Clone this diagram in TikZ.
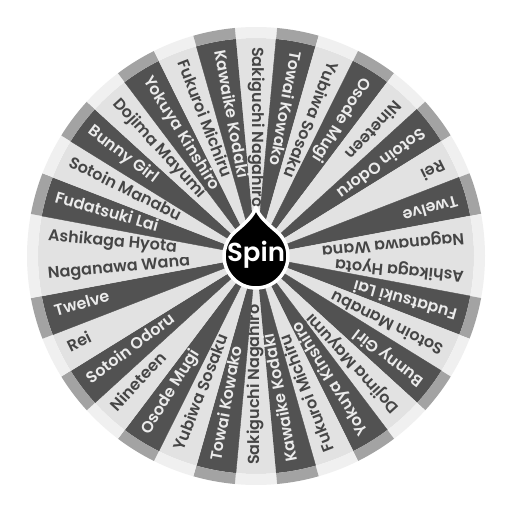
\documentclass[tikz,border=0pt]{standalone}
\usepackage{fontspec}
\setmainfont{Poppins}
\newfontfamily\labfont{Poppins SemiBold}
\definecolor{segD}{HTML}{525252}
\definecolor{segL}{HTML}{E2E2E2}
\definecolor{rimD}{HTML}{A3A3A3}
\definecolor{rimL}{HTML}{F0F0F0}
\definecolor{txtD}{HTML}{EBEBEB}
\definecolor{txtL}{HTML}{454545}
\tikzset{
  lab/.style={anchor=west, inner sep=0pt, text height=0.7em, text depth=0pt, font=\fontsize{16}{16}\labfont},
}
\begin{document}
\begin{tikzpicture}[x=1pt,y=1pt]
\useasboundingbox (0,0) rectangle (512,512);
\fill[white] (0,0) rectangle (512,512);
\coordinate (c) at (256,256);
\pgfmathsetmacro{\w}{360/34}
\foreach \nm/\sc/\rc/\tc [count=\i from 0] in {
  Sakiguchi Nagahiro/segL/rimL/txtL,
  Towai Kowako/segD/rimD/txtD,
  Yubiwa Sosaku/segL/rimL/txtL,
  Osode Mugi/segD/rimD/txtD,
  Nineteen/segL/rimL/txtL,
  Sotoin Odoru/segD/rimD/txtD,
  Rei/segL/rimL/txtL,
  Twelve/segD/rimD/txtD,
  Naganawa Wana/segL/rimL/txtL,
  Ashikaga Hyota/segL/rimL/txtL,
  Fudatsuki Lai/segD/rimD/txtD,
  Sotoin Manabu/segL/rimL/txtL,
  Bunny Girl/segD/rimD/txtD,
  Dojima Mayumi/segL/rimL/txtL,
  Yokuya Kinshiro/segD/rimD/txtD,
  Fukuroi Michiru/segL/rimL/txtL,
  Kawaike Kodaki/segD/rimD/txtD}{
  \foreach \h in {0,17}{
    \pgfmathsetmacro{\a}{90-(\i+\h)*\w}
    \pgfmathsetmacro{\sa}{\a+\w/2}
    \pgfmathsetmacro{\ea}{\a-\w/2}
    \fill[\sc] (c) -- ([shift={(\sa:218)}]c) arc[start angle=\sa, end angle=\ea, radius=218] -- cycle;
    \draw[\sc, line width=0.4pt] (c) -- ([shift={(\sa:218)}]c);
    \fill[\rc] ([shift={(\sa:218)}]c) arc[start angle=\sa, end angle=\ea, radius=218]
      -- ([shift={(\ea:229)}]c) arc[start angle=\ea, end angle=\sa, radius=229] -- cycle;
    \node[lab, text=\tc, rotate=\a+180] (n\i-\h) at ([shift={(\a:209)}]c) {\nm};
  }
}
% hub
\path[fill=black, draw=white, line width=3.5pt, line join=round]
  ([shift={(130:32)}]c) .. controls ([shift={(-13,31)}]c) and ([shift={(-2,40)}]c) .. ([shift={(0,49)}]c)
  .. controls ([shift={(2,40)}]c) and ([shift={(13,31)}]c) .. ([shift={(50:32)}]c)
  arc[start angle=50, end angle=-230, radius=32] -- cycle;
\node[text=white, font=\fontsize{26}{26}\labfont] (spin) at ([yshift=1]c) {Spin};
\end{tikzpicture}
\end{document}
